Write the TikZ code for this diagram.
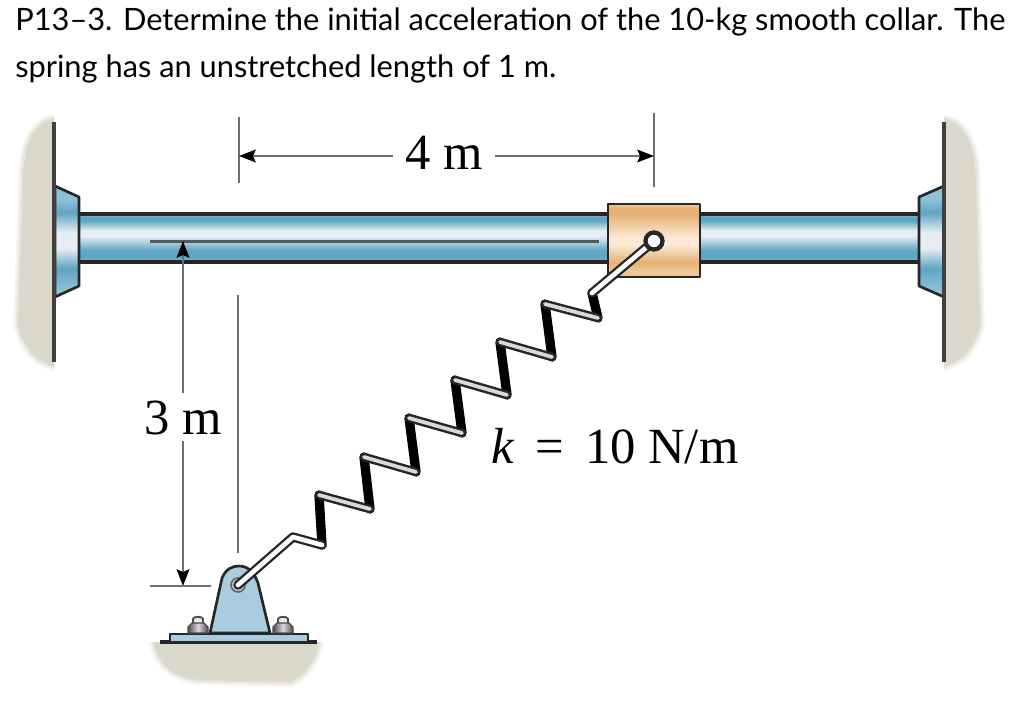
\documentclass[tikz,border=0pt]{standalone}
\usepackage{fontspec}
\setmainfont{Lato}
\newfontfamily\figfont{Liberation Serif}
\usetikzlibrary{arrows.meta}

\definecolor{wallgrey}{HTML}{D9D8CB}
\definecolor{dimgrey}{HTML}{707070}
\definecolor{plateblue}{HTML}{A9CCE0}
\definecolor{rodpale}{HTML}{8FC0D6}
\definecolor{roddark}{HTML}{5FA5C4}
\definecolor{rodwhite}{HTML}{E6EEF4}
\definecolor{colpale}{HTML}{F0C898}
\definecolor{coldark}{HTML}{E6B173}
\definecolor{colwhite}{HTML}{FBE9D6}
\pgfdeclareverticalshading{rodshade}{100bp}{color(0bp)=(rodpale); color(25bp)=(rodpale); color(30bp)=(roddark); color(37bp)=(roddark); color(52bp)=(rodwhite); color(58bp)=(rodwhite); color(68bp)=(roddark); color(72bp)=(roddark); color(75bp)=(rodpale); color(100bp)=(rodpale)}
\pgfdeclareverticalshading{flangeshade}{100bp}{color(0bp)=(rodpale); color(28bp)=(rodpale); color(38bp)=(roddark); color(47bp)=(rodwhite); color(54bp)=(rodwhite); color(63bp)=(roddark); color(69bp)=(rodpale); color(100bp)=(rodpale)}
\pgfdeclareverticalshading{collarshade}{100bp}{color(0bp)=(colpale); color(29bp)=(colpale); color(35bp)=(coldark); color(47bp)=(colwhite); color(52bp)=(colwhite); color(68bp)=(coldark); color(72bp)=(coldark); color(75bp)=(colpale); color(100bp)=(colpale)}

\tikzset{
  titletext/.style={anchor=base west,inner sep=0pt,font=\fontsize{23.1}{23.1}\selectfont},
  figtext/.style={anchor=base,inner sep=0pt,font=\figfont\fontsize{38}{38}\selectfont},
  wallblob/.style={fill=wallgrey,preaction={draw=wallgrey!30,line width=7pt},preaction={draw=wallgrey!65,line width=3.5pt}},
  outline/.style={draw=black!85,line width=2pt,line join=round},
  wallline/.style={draw=black!75,line width=2.6pt},
  dimline/.style={draw=dimgrey,line width=1.6pt},
  dimarrow/.style={dimline,-{Stealth[length=12.5pt,width=9.5pt,inset=2pt,color=black]}},
  coilblack/.style={draw=black,line width=7pt,line cap=round},
  coilouter/.style={draw=black!85,line width=6.5pt,line cap=round},
  coilinner/.style={draw=black!15,line width=2.8pt,line cap=round},
  rodouter/.style={draw=black!85,line width=7pt,line cap=round,line join=round},
  rodinner/.style={draw=white,line width=3.5pt,line cap=round,line join=round},
  nut/.style={left color=black!70,right color=black!70,middle color=black!15,draw=black!70,line width=1pt},
  stud/.style={fill=black!8,draw=black!70,line width=1.4pt}
}

\begin{document}
\begin{tikzpicture}[x=.75pt,y=-.75pt]
\useasboundingbox (0,0) rectangle (1024,703);
\node[titletext] (line1) at (15,30) {P13–3. Determine the initial acceleration of the 10-kg smooth collar. The};
\node[titletext] (line2) at (15,77) {spring has an unstretched length of 1 m.};
% walls and ground
\begin{scope}
\clip (0,100) rectangle (54,400);
\path[wallblob] (54,119) .. controls (30,124) and (23,150) .. (23,185) -- (18,325) .. controls (24,350) and (38,362) .. (54,366) -- cycle;
\end{scope}
\begin{scope}
\clip (944,100) rectangle (1024,400);
\path[wallblob] (944,119) .. controls (968,124) and (976,150) .. (976,185) -- (980,325) .. controls (974,350) and (960,362) .. (944,366) -- cycle;
\end{scope}
\begin{scope}
\clip (140,642) rectangle (340,703);
\path[wallblob] (154,642) .. controls (158,665) and (175,678) .. (200,680) -- (290,682) .. controls (305,676) and (316,660) .. (319,642) -- cycle;
\end{scope}
% rod
\shade[shading=rodshade] (80,214) rectangle (920,262);
\draw[outline,line width=2.4pt] (80,214) -- (920,214);
\draw[outline,line width=2.4pt] (80,262) -- (920,262);
\draw[outline,shading=flangeshade] (55,186) -- (79,197) -- (79,286) -- (55,297) -- cycle;
\draw[outline,shading=flangeshade] (944,186) -- (919,197) -- (919,286) -- (944,297) -- cycle;
\draw[wallline] (54,122) -- (54,362);
\draw[wallline] (944,122) -- (944,362);
% collar
\draw[draw=black!65,line width=1.6pt] (150,241.5) -- (599,241.5);
\draw[outline,line width=1.8pt,shading=collarshade] (608,204) rectangle (700,277);
% dimensions
\coordinate (p4l) at (239,156);
\coordinate (p4r) at (654,156);
\node[figtext] (four) at (444,169) {4 m};
\draw[dimline] (239,117) -- (239,183);
\draw[dimline] (654,113) -- (654,187);
\draw[dimarrow] (four.west |- p4l) ++(-12,0) -- (p4l);
\draw[dimarrow] (four.east |- p4r) ++(12,0) -- (p4r);
\coordinate (p3t) at (183,241);
\coordinate (p3b) at (183,586);
\node[figtext] (three) at (183,434) {3 m};
\draw[dimarrow] (three.north) ++(0,-7) -- (p3t);
\draw[dimarrow] (three.south) ++(0,6) -- (p3b);
\draw[dimline] (150,586) -- (211,586);
\draw[dimline] (238,295) -- (238,553);
\node[figtext,anchor=base west] (stiff) at (491,463) {{\itshape k}\hspace{16pt}=\hspace{16pt}10 N/m};
% base and bracket
\draw[draw=black!85,line width=2.3pt] (160,642) -- (317,642);
\draw[outline,line width=1.8pt,fill=plateblue] (170,634) rectangle (308,642);
\foreach \bx in {198,283} {
  \draw[stud] (\bx-5,624) -- (\bx-5,619) .. controls (\bx-4,616) and (\bx+4,616) .. (\bx+5,619) -- (\bx+5,624);
  \draw[nut] (\bx-10,633) -- (\bx-10,627) -- (\bx-6,623) -- (\bx+6,623) -- (\bx+10,627) -- (\bx+10,633) -- cycle;
}
\draw[outline,fill=plateblue] (210,633) -- (222,578) .. controls (226,569) and (232,566) .. (239,566) .. controls (248,566) and (254,572) .. (258,583) -- (270,633) -- cycle;
% spring
\foreach \sx/\sy [count=\i] in {238/585,293/537,322/545,319/495,370/509,364/457,416/472,409/418,462/433,455/380,507/395,500/342,552/357,545/304,598/318,592/293,654/241}
  \coordinate (sp\i) at (\sx,\sy);
\draw[draw=black!60,line width=1.2pt,fill=black!22] (sp1) circle (7);
\foreach \a/\b in {3/4,5/6,7/8,9/10,11/12,13/14,15/16}
  \draw[coilblack] (sp\a) -- (sp\b);
\draw[rodouter] (sp1) -- (sp2) -- (sp3);
\draw[rodinner] (sp1) -- (sp2) -- (sp3);
\foreach \a/\b in {4/5,6/7,8/9,10/11,12/13,14/15} {
  \draw[coilouter] (sp\a) -- (sp\b);
  \draw[coilinner] (sp\a) -- (sp\b);
}
\draw[rodouter] (sp16) -- (sp17);
\draw[rodinner] (sp16) -- (sp17);
\draw[draw=black!85,line width=3.2pt,fill=white] (sp17) circle (8.5);
\end{tikzpicture}
\end{document}
